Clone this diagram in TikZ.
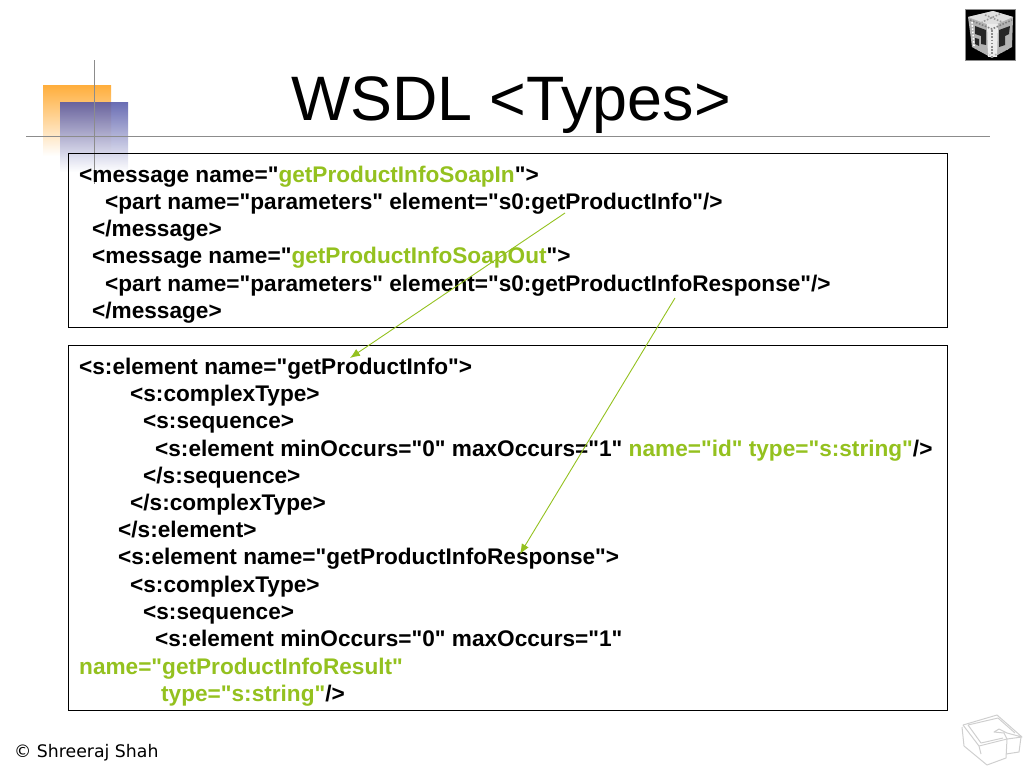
\documentclass[tikz,border=0pt]{standalone}
\usepackage{fontspec}
\defaultfontfeatures[\rmfamily]{}
\setmainfont{Liberation Sans}
\newfontfamily\footfont{DejaVu Sans}
\usetikzlibrary{arrows.meta}
\definecolor{myGreen}{HTML}{94C11F}
\definecolor{myOrange}{HTML}{FFAE3C}
\definecolor{myBlue}{HTML}{4F53A6}
\definecolor{myRule}{HTML}{8C8C8C}
\definecolor{mySketch}{HTML}{CFCFCF}
\tikzset{
	code/.style = {anchor = base west, inner sep = 0pt, font = \fontsize{22.62}{26}\selectfont\bfseries},
	box/.style = {draw = black, line width = 0.9pt, minimum width = 879pt},
	link/.style = {myGreen, line width = 0.9pt, -{Latex[length = 10pt, width = 8pt]}},
	sketch/.style = {mySketch, line width = 1pt, line join = round},
	speck/.style = {line width = 1.6pt, dash pattern = on 1.6pt off 1.6pt}
}
\newcommand{\gr}[1]{{\color{myGreen}#1}}

\begin{document}
\begin{tikzpicture}[x = 1pt, y = -1pt]
		\useasboundingbox (0, 0) rectangle (1024, 768);
		%%%%%%%%%%%%%
		\shade [top color = myOrange, bottom color = white] (43, 85) rectangle (111, 156);
		\shade [top color = myBlue, bottom color = white, fill opacity = 0.85] (60, 102) rectangle (128, 172);
		\draw [myRule, line width = 1pt] (26, 136) -- (990, 136);
		\draw [myRule, line width = 1pt] (94, 60) -- (94, 184);
		%%%%%%%%%%%%%
		\node [anchor = base, inner sep = 0pt, font = \fontsize{62.8}{70}\selectfont] (title) at (511, 120) {WSDL <Types>};
		\node [box, minimum height = 174pt] (msgbox) at (508, 240.5) {};
		\node [box, minimum height = 365pt] (elembox) at (508, 528) {};
		%%%%%%%%%%%%%
		\node [code] (m1) at (79, 182) {<message name="\gr{getProductInfoSoapIn}">};
		\node [code] (m2) at (105, 209.5) {<part name="parameters" element="s0:getProductInfo"/>};
		\node [code] (m3) at (92, 236.5) {</message>};
		\node [code] (m4) at (92, 263.5) {<message name="\gr{getProductInfoSoapOut}">};
		\node [code] (m5) at (105, 291) {<part name="parameters" element="s0:getProductInfoResponse"/>};
		\node [code] (m6) at (92, 318) {</message>};
		%%%%%%%%%%%%%
		\node [code] (e1) at (79, 374) {<s:element name="getProductInfo">};
		\node [code] (e2) at (130, 401) {<s:complexType>};
		\node [code] (e3) at (143, 428.5) {<s:sequence>};
		\node [code] (e4) at (155, 456) {<s:element minOccurs="0" maxOccurs="1" \gr{name="id" type="s:string"}/>};
		\node [code] (e5) at (143, 483) {</s:sequence>};
		\node [code] (e6) at (130, 510) {</s:complexType>};
		\node [code] (e7) at (118, 537) {</s:element>};
		\node [code] (e8) at (118, 564.5) {<s:element name="getProductInfoResponse">};
		\node [code] (e9) at (130, 592) {<s:complexType>};
		\node [code] (e10) at (143, 619) {<s:sequence>};
		\node [code] (e11) at (155, 646) {<s:element minOccurs="0" maxOccurs="1"};
		\node [code] (e12) at (79, 674) {\gr{name="getProductInfoResult"}};
		\node [code] (e13) at (161, 701) {\gr{type="s:string"}/>};
		%%%%%%%%%%%%%
		\coordinate (from1) at (565, 213);
		\coordinate (to1) at (350, 358);
		\coordinate (from2) at (675, 298);
		\coordinate (to2) at (520, 554);
		\draw [link] (from1) to (to1);
		\draw [link] (from2) to (to2);
		%%%%%%%%%%%%%
		\node [anchor = base west, inner sep = 0pt, font = \fontsize{17.3}{20}\selectfont\footfont] (foot) at (14, 757) {© Shreeraj Shah};
		%%%%%%%%%%%%%
		% logo, top right
		\fill [black] (965, 9) rectangle (1015, 60);
		\draw [myRule, line width = 0.7pt] (965, 9) rectangle (1015, 60);
		\fill [gray!60!white] (968, 17) -- (993, 11) -- (1013, 17) -- (1012, 47) -- (992, 58) -- (972, 47) -- cycle;
		\fill [gray!25!white] (968, 17) -- (993, 11) -- (1013, 17) -- (992, 26) -- cycle;
		\fill [gray!15!white] (987, 24) -- (998, 24) -- (997, 57) -- (988, 57) -- cycle;
		\fill [black!85] (975, 26) -- (986, 30) -- (986, 45) -- (981, 44) -- (981, 36) -- (975, 34) -- cycle;
		\fill [black!85] (975, 38) -- (979, 39) -- (979, 46) -- (975, 44) -- cycle;
		\fill [black!85] (999, 30) -- (1010, 26) -- (1009, 34) -- (1005, 36) -- (1005, 45) -- (999, 47) -- cycle;
		\draw [speck, black!50] (970, 20) -- (992, 29) -- (1012, 20);
		\draw [speck, black!40] (985, 15) -- (1002, 22);
		\draw [speck, black!40] (1000, 14) -- (982, 22);
		\draw [speck, black!45] (992, 30) -- (992, 57);
		\draw [speck, white] (972, 22) -- (974, 46);
		\draw [speck, white!70!black] (1011, 22) -- (1010, 46);
		\draw [speck, white!70!black] (975, 48) -- (990, 55);
		\draw [speck, white!70!black] (995, 55) -- (1009, 48);
		%%%%%%%%%%%%%
		% sketch, bottom right
		\draw [sketch] (963, 725) -- (997, 715) -- (1022, 737) -- (1007, 739) -- (1004, 733) -- (994, 732) -- (999, 729) -- (1007, 733) -- (1022, 737);
		\draw [sketch] (963, 725) -- (979, 746) -- (1007, 739);
		\draw [sketch] (968, 725) -- (981, 743) -- (1003, 738);
		\draw [sketch] (968, 725) -- (998, 718) -- (1015, 733);
		\draw [sketch] (962, 727) -- (964, 746) -- (987, 765) -- (1006, 758) -- (1007, 739);
		\draw [sketch] (1021, 737) -- (1019, 752) -- (1006, 754);
		\draw [sketch] (979, 746) -- (981, 754);
\end{tikzpicture}
\end{document}
